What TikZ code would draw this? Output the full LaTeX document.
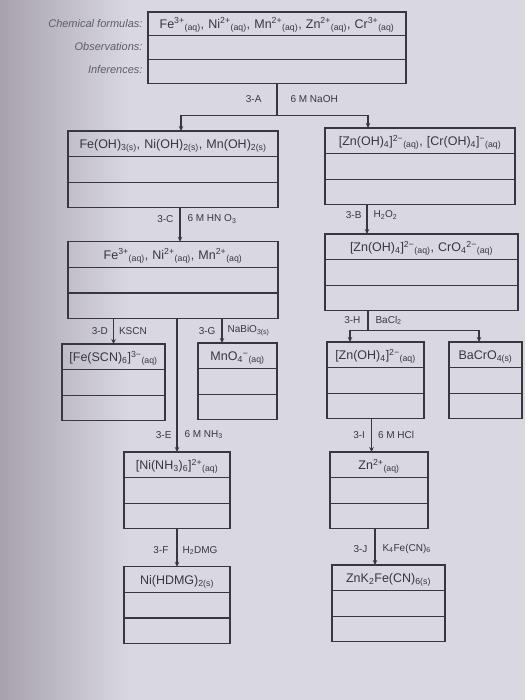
\documentclass[tikz,border=0pt]{standalone}
\usepackage{fontspec}
\setmainfont{Liberation Sans}
\usetikzlibrary{shapes,arrows.meta,positioning,calc}

\definecolor{paper}{RGB}{217,216,225}
\definecolor{paperdark}{RGB}{168,162,174}
\definecolor{ink}{RGB}{55,55,65}
\definecolor{fieldgray}{RGB}{92,92,104}

\newcommand{\formfont}{\fontsize{12.5}{14}\selectfont}
\newcommand{\stepfont}{\fontsize{10}{12}\selectfont}
\newcommand{\fieldfont}{\fontsize{11}{13}\selectfont\itshape}
\newcommand{\rowstrut}{\rule[-7.5pt]{0pt}{24.5pt}}
\newcommand{\tabstrut}{\rule[-7pt]{0pt}{22.7pt}}
\newcommand{\chsub}[1]{\textsubscript{#1}}
\newcommand{\chsup}[1]{\textsuperscript{#1}}

\begin{document}
\begin{tikzpicture}[x=1pt, y=-1pt, line width=1.1pt, color=ink,
  >={Stealth[length=5pt,width=4.5pt]},
  chembox/.style={draw=ink, rectangle split, rectangle split parts=3,
    inner sep=0pt, outer sep=0pt, text width=#1, align=center, font=\formfont},
  steplbl/.style={font=\stepfont, inner sep=1pt},
  fieldlbl/.style={font=\fieldfont, text=fieldgray, anchor=east, inner sep=0pt}]

% paper
\fill[paper] (0,0) rectangle (525,700);
\shade[left color=paperdark, right color=paper] (0,0) rectangle (130,700);
\useasboundingbox (0,0) rectangle (525,700);

% starting solution
\node[chembox=258pt, anchor=north west] (formula) at (148,12)
  {\tabstrut Fe\chsup{3+}\chsub{(aq)}, Ni\chsup{2+}\chsub{(aq)}, Mn\chsup{2+}\chsub{(aq)}, Zn\chsup{2+}\chsub{(aq)}, Cr\chsup{3+}\chsub{(aq)}
   \nodepart{two}\tabstrut \nodepart{three}\tabstrut};
\node[fieldlbl] (lblform) at (143,24) {Chemical formulas:};
\node[fieldlbl] (lblobs) at (143,47) {Observations:};
\node[fieldlbl] (lblinf) at (143,70) {Inferences:};

% boxes
\node[chembox=210pt, anchor=north west] (hydrox) at (68,131)
  {\rowstrut Fe(OH)\chsub{3(s)}, Ni(OH)\chsub{2(s)}, Mn(OH)\chsub{2(s)}
   \nodepart{two}\rowstrut \nodepart{three}\rowstrut};
\node[chembox=190pt, anchor=north west] (zincate) at (325,128)
  {\rowstrut [Zn(OH)\chsub{4}]\chsup{2−}\chsub{(aq)}, [Cr(OH)\chsub{4}]\chsup{−}\chsub{(aq)}
   \nodepart{two}\rowstrut \nodepart{three}\rowstrut};
\node[chembox=210pt, below=34pt of hydrox] (ferric)
  {\rowstrut Fe\chsup{3+}\chsub{(aq)}, Ni\chsup{2+}\chsub{(aq)}, Mn\chsup{2+}\chsub{(aq)}
   \nodepart{two}\rowstrut \nodepart{three}\rowstrut};
\node[chembox=193pt, anchor=north west] (chromate) at (325,234)
  {\rowstrut [Zn(OH)\chsub{4}]\chsup{2−}\chsub{(aq)}, CrO\chsub{4}\chsup{2−}\chsub{(aq)}
   \nodepart{two}\rowstrut \nodepart{three}\rowstrut};
\node[chembox=103pt, anchor=north west] (thiocy) at (62,344)
  {\rowstrut [Fe(SCN)\chsub{6}]\chsup{3−}\chsub{(aq)}
   \nodepart{two}\rowstrut \nodepart{three}\rowstrut};
\node[chembox=79pt, anchor=north west] (permang) at (198,343)
  {\rowstrut MnO\chsub{4}\chsup{−}\chsub{(aq)}
   \nodepart{two}\rowstrut \nodepart{three}\rowstrut};
\node[chembox=97pt, anchor=north west] (zincH) at (327,342)
  {\rowstrut [Zn(OH)\chsub{4}]\chsup{2−}\chsub{(aq)}
   \nodepart{two}\rowstrut \nodepart{three}\rowstrut};
\node[chembox=73pt, anchor=north west] (barium) at (449,342)
  {\rowstrut BaCrO\chsub{4(s)}
   \nodepart{two}\rowstrut \nodepart{three}\rowstrut};
\node[chembox=106pt, anchor=north west] (nihex) at (124,452)
  {\rowstrut [Ni(NH\chsub{3})\chsub{6}]\chsup{2+}\chsub{(aq)}
   \nodepart{two}\rowstrut \nodepart{three}\rowstrut};
\node[chembox=98pt, anchor=north west] (zincion) at (330,452)
  {\rowstrut Zn\chsup{2+}\chsub{(aq)}
   \nodepart{two}\rowstrut \nodepart{three}\rowstrut};
\node[chembox=106pt, below=38pt of nihex] (nidmg)
  {\rowstrut Ni(HDMG)\chsub{2(s)}
   \nodepart{two}\rowstrut \nodepart{three}\rowstrut};
\node[chembox=113pt, anchor=north west] (zinkfe) at (332,565)
  {\rowstrut ZnK\chsub{2}Fe(CN)\chsub{6(s)}
   \nodepart{two}\rowstrut \nodepart{three}\rowstrut};

% steps
\draw (formula.south) -- ++(0,32)
  node[midway, left=14pt, steplbl] {3-A}
  node[midway, right=12pt, steplbl] {6 M NaOH} coordinate (forkA);
\draw[->] (forkA) -| ([xshift=8pt]hydrox.north);
\draw[->] (forkA) -| ([xshift=-52pt]zincate.north);

\draw[->] ([xshift=7pt]hydrox.south) -- ([xshift=7pt]ferric.north)
  node[pos=.33, left=5pt, steplbl] {3-C}
  node[pos=.33, right=6pt, steplbl] {6 M HN O\chsub{3}};
\draw[->] ([xshift=-53pt]zincate.south) -- ([xshift=-54.5pt]chromate.north)
  node[pos=.35, left=4pt, steplbl] {3-B}
  node[pos=.35, right=5pt, steplbl] {H\chsub{2}O\chsub{2}};

\draw[->] (ferric.south -| thiocy.north) -- (thiocy.north)
  node[midway, left=4pt, steplbl] {3-D}
  node[midway, right=4pt, steplbl] {KSCN};
\draw[->] ([xshift=49pt]ferric.south) -- ([xshift=-15.5pt]permang.north)
  node[midway, left=5pt, steplbl] {3-G}
  node[midway, right=4pt, steplbl] {NaBiO\chsub{3(s)}};
\draw[->] (ferric.south -| nihex.north) -- (nihex.north)
  node[pos=.87, left=4pt, steplbl] {3-E}
  node[pos=.87, right=6pt, steplbl] {6 M NH\chsub{3}};

\draw ([xshift=-53.5pt]chromate.south) -- ++(0,19.5)
  node[midway, left=6pt, steplbl] {3-H}
  node[midway, right=6pt, steplbl] {BaCl\chsub{2}} coordinate (forkH);
\draw[->] (forkH) -| ([xshift=-25.5pt]zincH.north);
\draw[->] (forkH) -| ([xshift=-6.5pt]barium.north);

\draw[->] ([xshift=-4pt]zincH.south) -- ([xshift=-7.5pt]zincion.north)
  node[midway, left=5pt, steplbl] {3-I}
  node[midway, right=5pt, steplbl] {6 M HCl};
\draw[->] (nihex.south) -- (nidmg.north)
  node[pos=.57, left=7pt, steplbl] {3-F}
  node[pos=.57, right=4pt, steplbl] {H\chsub{2}DMG};
\draw[->] ([xshift=-4pt]zincion.south) -- ([xshift=-13.5pt]zinkfe.north)
  node[pos=.55, left=6pt, steplbl] {3-J}
  node[pos=.55, right=6pt, steplbl] {K\chsub{4}Fe(CN)\chsub{6}};
\end{tikzpicture}
\end{document}
